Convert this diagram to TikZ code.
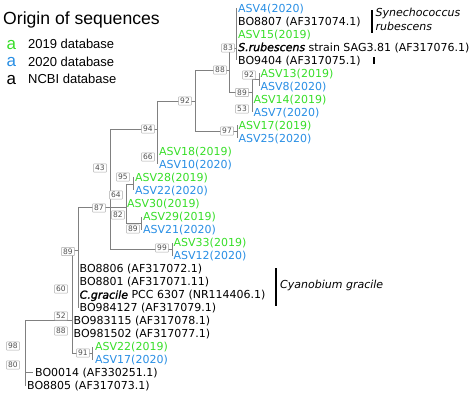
\documentclass[tikz,border=0pt]{standalone}
\usepackage{fontspec}
\setmainfont{DejaVu Sans}
\newfontfamily\helv{Liberation Sans}
\newfontfamily\fbit{DejaVu Sans}[ItalicFeatures={FakeBold=1.6}]
\definecolor{gA}{RGB}{55,222,40}
\definecolor{bA}{RGB}{40,142,228}
\definecolor{lineG}{RGB}{128,128,128}
\definecolor{boxG}{RGB}{170,170,170}
\definecolor{numG}{RGB}{80,80,80}
\newcommand\tleaf[6]{%
  \coordinate (#1) at (#2,#3);
  \node[leaflab,text=#4] (#1t) at (#2+#6,#3+4) {#5};}
\newcommand\supval[4]{\node[supbox] (#1) at (#2,#3) {#4};}
\newcommand\bisp[1]{{\fbit\itshape #1}}
\begin{document}
\begin{tikzpicture}[x=1pt,y=-1pt,
  leaflab/.style={anchor=base west,inner sep=0pt,font=\fontsize{11}{13}\selectfont},
  supbox/.style={draw=boxG,fill=white,rounded corners=0.5pt,line width=0.5pt,
     inner xsep=1.7pt,inner ysep=1.4pt,text height=5.4pt,text depth=0pt,
     text=numG,font=\fontsize{7.5}{7.5}\selectfont},
  br/.style={draw=lineG,line width=0.8pt},
  clade/.style={draw=black,line width=1.1pt},
  cladelab/.style={anchor=west,inner sep=0pt,font=\fontsize{11}{13}\selectfont\itshape}]
\useasboundingbox (0,0) rectangle (474,394);

% title and legend
\node[anchor=base west,inner sep=0pt,font=\helv\fontsize{17.6}{20}\selectfont] (title) at (3,24.5) {Origin of sequences};
\node[anchor=base west,inner sep=0pt,text=gA,font=\helv\fontsize{17}{18}\selectfont] (la) at (6.5,49) {a};
\node[anchor=base west,inner sep=0pt,text=bA,font=\helv\fontsize{17}{18}\selectfont] (lb) at (6.5,66.5) {a};
\node[anchor=base west,inner sep=0pt,font=\helv\fontsize{17}{18}\selectfont] (lc) at (6.5,84) {a};
\node[anchor=base west,inner sep=0pt,font=\helv\fontsize{13}{15}\selectfont] (ta) at (28,48.5) {2019 database};
\node[anchor=base west,inner sep=0pt,font=\helv\fontsize{13}{15}\selectfont] (tb) at (28,66) {2020 database};
\node[anchor=base west,inner sep=0pt,font=\helv\fontsize{13}{15}\selectfont] (tc) at (28,83.5) {NCBI database};

% internal nodes
\coordinate (T83) at (236,48);
\coordinate (N88) at (229,70.3);
\coordinate (N89u) at (252,92.7);
\coordinate (N92u) at (259,79.7);
\coordinate (N53) at (252,105.7);
\coordinate (N92m) at (195,101);
\coordinate (N97) at (237,131.8);
\coordinate (N94) at (157,129.4);
\coordinate (N66) at (157,157.8);
\coordinate (N43) at (110,166.5);
\coordinate (N64) at (126,207.5);
\coordinate (N95) at (133,183.9);
\coordinate (N89b) at (141,223);
\coordinate (NB) at (110,207.5);
\coordinate (N99) at (172,249);
\coordinate (N89L) at (78,250);
\coordinate (NE) at (72,320);
\coordinate (N91) at (92,353.3);
\coordinate (R) at (25,350);

% leaves
\tleaf{L0}{236}{8.0}{bA}{ASV4(2020)}{2}
\tleaf{L1}{236}{21.0}{black}{BO8807 (AF317074.1)}{2}
\tleaf{L2}{236}{34.1}{gA}{ASV15(2019)}{2}
\tleaf{L3}{236}{47.1}{black}{\bisp{S.rubescens} strain SAG3.81 (AF317076.1)}{2}
\tleaf{L4}{236}{60.1}{black}{BO9404 (AF317075.1)}{2}
\tleaf{L5}{259}{73.2}{gA}{ASV13(2019)}{1.5}
\tleaf{L6}{259}{86.2}{bA}{ASV8(2020)}{1.5}
\tleaf{L7}{252}{99.2}{gA}{ASV14(2019)}{1.5}
\tleaf{L8}{252}{112.2}{bA}{ASV7(2020)}{1.5}
\tleaf{L9}{237}{125.3}{gA}{ASV17(2019)}{1.5}
\tleaf{L10}{237}{138.3}{bA}{ASV25(2020)}{1.5}
\tleaf{L11}{157}{151.3}{gA}{ASV18(2019)}{2}
\tleaf{L12}{157}{164.4}{bA}{ASV10(2020)}{2}
\tleaf{L13}{133}{177.4}{gA}{ASV28(2019)}{2}
\tleaf{L14}{133}{190.4}{bA}{ASV22(2020)}{2}
\tleaf{L15}{126}{203.5}{gA}{ASV30(2019)}{1}
\tleaf{L16}{141}{216.5}{gA}{ASV29(2019)}{2}
\tleaf{L17}{141}{229.5}{bA}{ASV21(2020)}{2}
\tleaf{L18}{172}{242.5}{gA}{ASV33(2019)}{1.5}
\tleaf{L19}{172}{255.6}{bA}{ASV12(2020)}{1.5}
\tleaf{L20}{78}{268.6}{black}{BO8806 (AF317072.1)}{1.5}
\tleaf{L21}{78}{281.6}{black}{BO8801 (AF317071.11)}{1.5}
\tleaf{L22}{78}{294.7}{black}{\bisp{C.gracile} PCC 6307 (NR114406.1)}{1.5}
\tleaf{L23}{78}{307.7}{black}{BO984127 (AF317079.1)}{1.5}
\tleaf{L24}{72}{320.7}{black}{BO983115 (AF317078.1)}{1.5}
\tleaf{L25}{72}{333.8}{black}{BO981502 (AF317077.1)}{1.5}
\tleaf{L26}{92}{346.8}{gA}{ASV22(2019)}{3}
\tleaf{L27}{92}{359.8}{bA}{ASV17(2020)}{3}
\tleaf{L28}{33}{372.8}{black}{BO0014 (AF330251.1)}{2}
\tleaf{L29}{25}{385.9}{black}{BO8805 (AF317073.1)}{2}

% branches
\path[br] (T83) |- (L0) (T83) |- (L1) (T83) |- (L2) (T83) |- (L3) (T83) |- (L4);
\path[br] (N88) |- (T83) (N88) |- (N89u);
\path[br] (N89u) |- (N92u) (N89u) |- (N53);
\path[br] (N92u) |- (L5) (N92u) |- (L6);
\path[br] (N53) |- (L7) (N53) |- (L8);
\path[br] (N92m) |- (N88) (N92m) |- (N97);
\path[br] (N97) |- (L9) (N97) |- (L10);
\path[br] (N94) |- (N92m) (N94) |- (N66);
\path[br] (N66) |- (L11) (N66) |- (L12);
\path[br] (N43) |- (N94) (N43) |- (N64);
\path[br] (N64) |- (N95) (N64) |- (L15) (N64) |- (N89b);
\path[br] (N95) |- (L13) (N95) |- (L14);
\path[br] (N89b) |- (L16) (N89b) |- (L17);
\path[br] (NB) |- (N43) (NB) |- (N99);
\path[br] (N99) |- (L18) (N99) |- (L19);
\path[br] (N89L) |- (NB) (N89L) |- (L20) (N89L) |- (L21) (N89L) |- (L22) (N89L) |- (L23);
\path[br] (NE) |- (N89L) (NE) |- (L24) (NE) |- (L25) (NE) |- (N91);
\path[br] (N91) |- (L26) (N91) |- (L27);
\path[br] (R) |- (NE) (R) |- (L28) (R) |- (L29);

% support values
\supval{b83}{228}{48}{83}
\supval{b88}{220}{70}{88}
\supval{b92u}{249}{75}{92}
\supval{b89u}{242}{92.5}{89}
\supval{b53}{242}{109}{53}
\supval{b92m}{185}{101}{92}
\supval{b97}{227}{131}{97}
\supval{b94}{148}{129}{94}
\supval{b66}{148}{157}{66}
\supval{b43}{100}{168}{43}
\supval{b95}{123}{177}{95}
\supval{b64}{116}{195}{64}
\supval{b87}{99}{208}{87}
\supval{b82}{118}{215}{82}
\supval{b89b}{133}{229}{89}
\supval{b99}{162}{248}{99}
\supval{b89L}{68}{251.5}{89}
\supval{b60}{61}{289}{60}
\supval{b52}{61}{316}{52}
\supval{b88L}{61}{331}{88}
\supval{b91}{83}{353}{91}
\supval{b98}{13}{346}{98}
\supval{b80}{13}{365}{80}

% clade annotations
\coordinate (sA) at (372,10);
\coordinate (sB) at (372,33);
\draw[clade] (sA) -- (sB);
\node[cladelab] (syn1) at (375.5,13.5) {Synechococcus};
\node[cladelab] (syn2) at (375.5,26) {rubescens};
\coordinate (tA) at (374,57);
\coordinate (tB) at (374,64);
\draw[clade] (tA) -- (tB);
\coordinate (cA) at (276,268);
\coordinate (cB) at (276,306);
\draw[clade] (cA) -- (cB);
\node[cladelab] (cyn) at (280,285) {Cyanobium gracile};
\end{tikzpicture}
\end{document}
